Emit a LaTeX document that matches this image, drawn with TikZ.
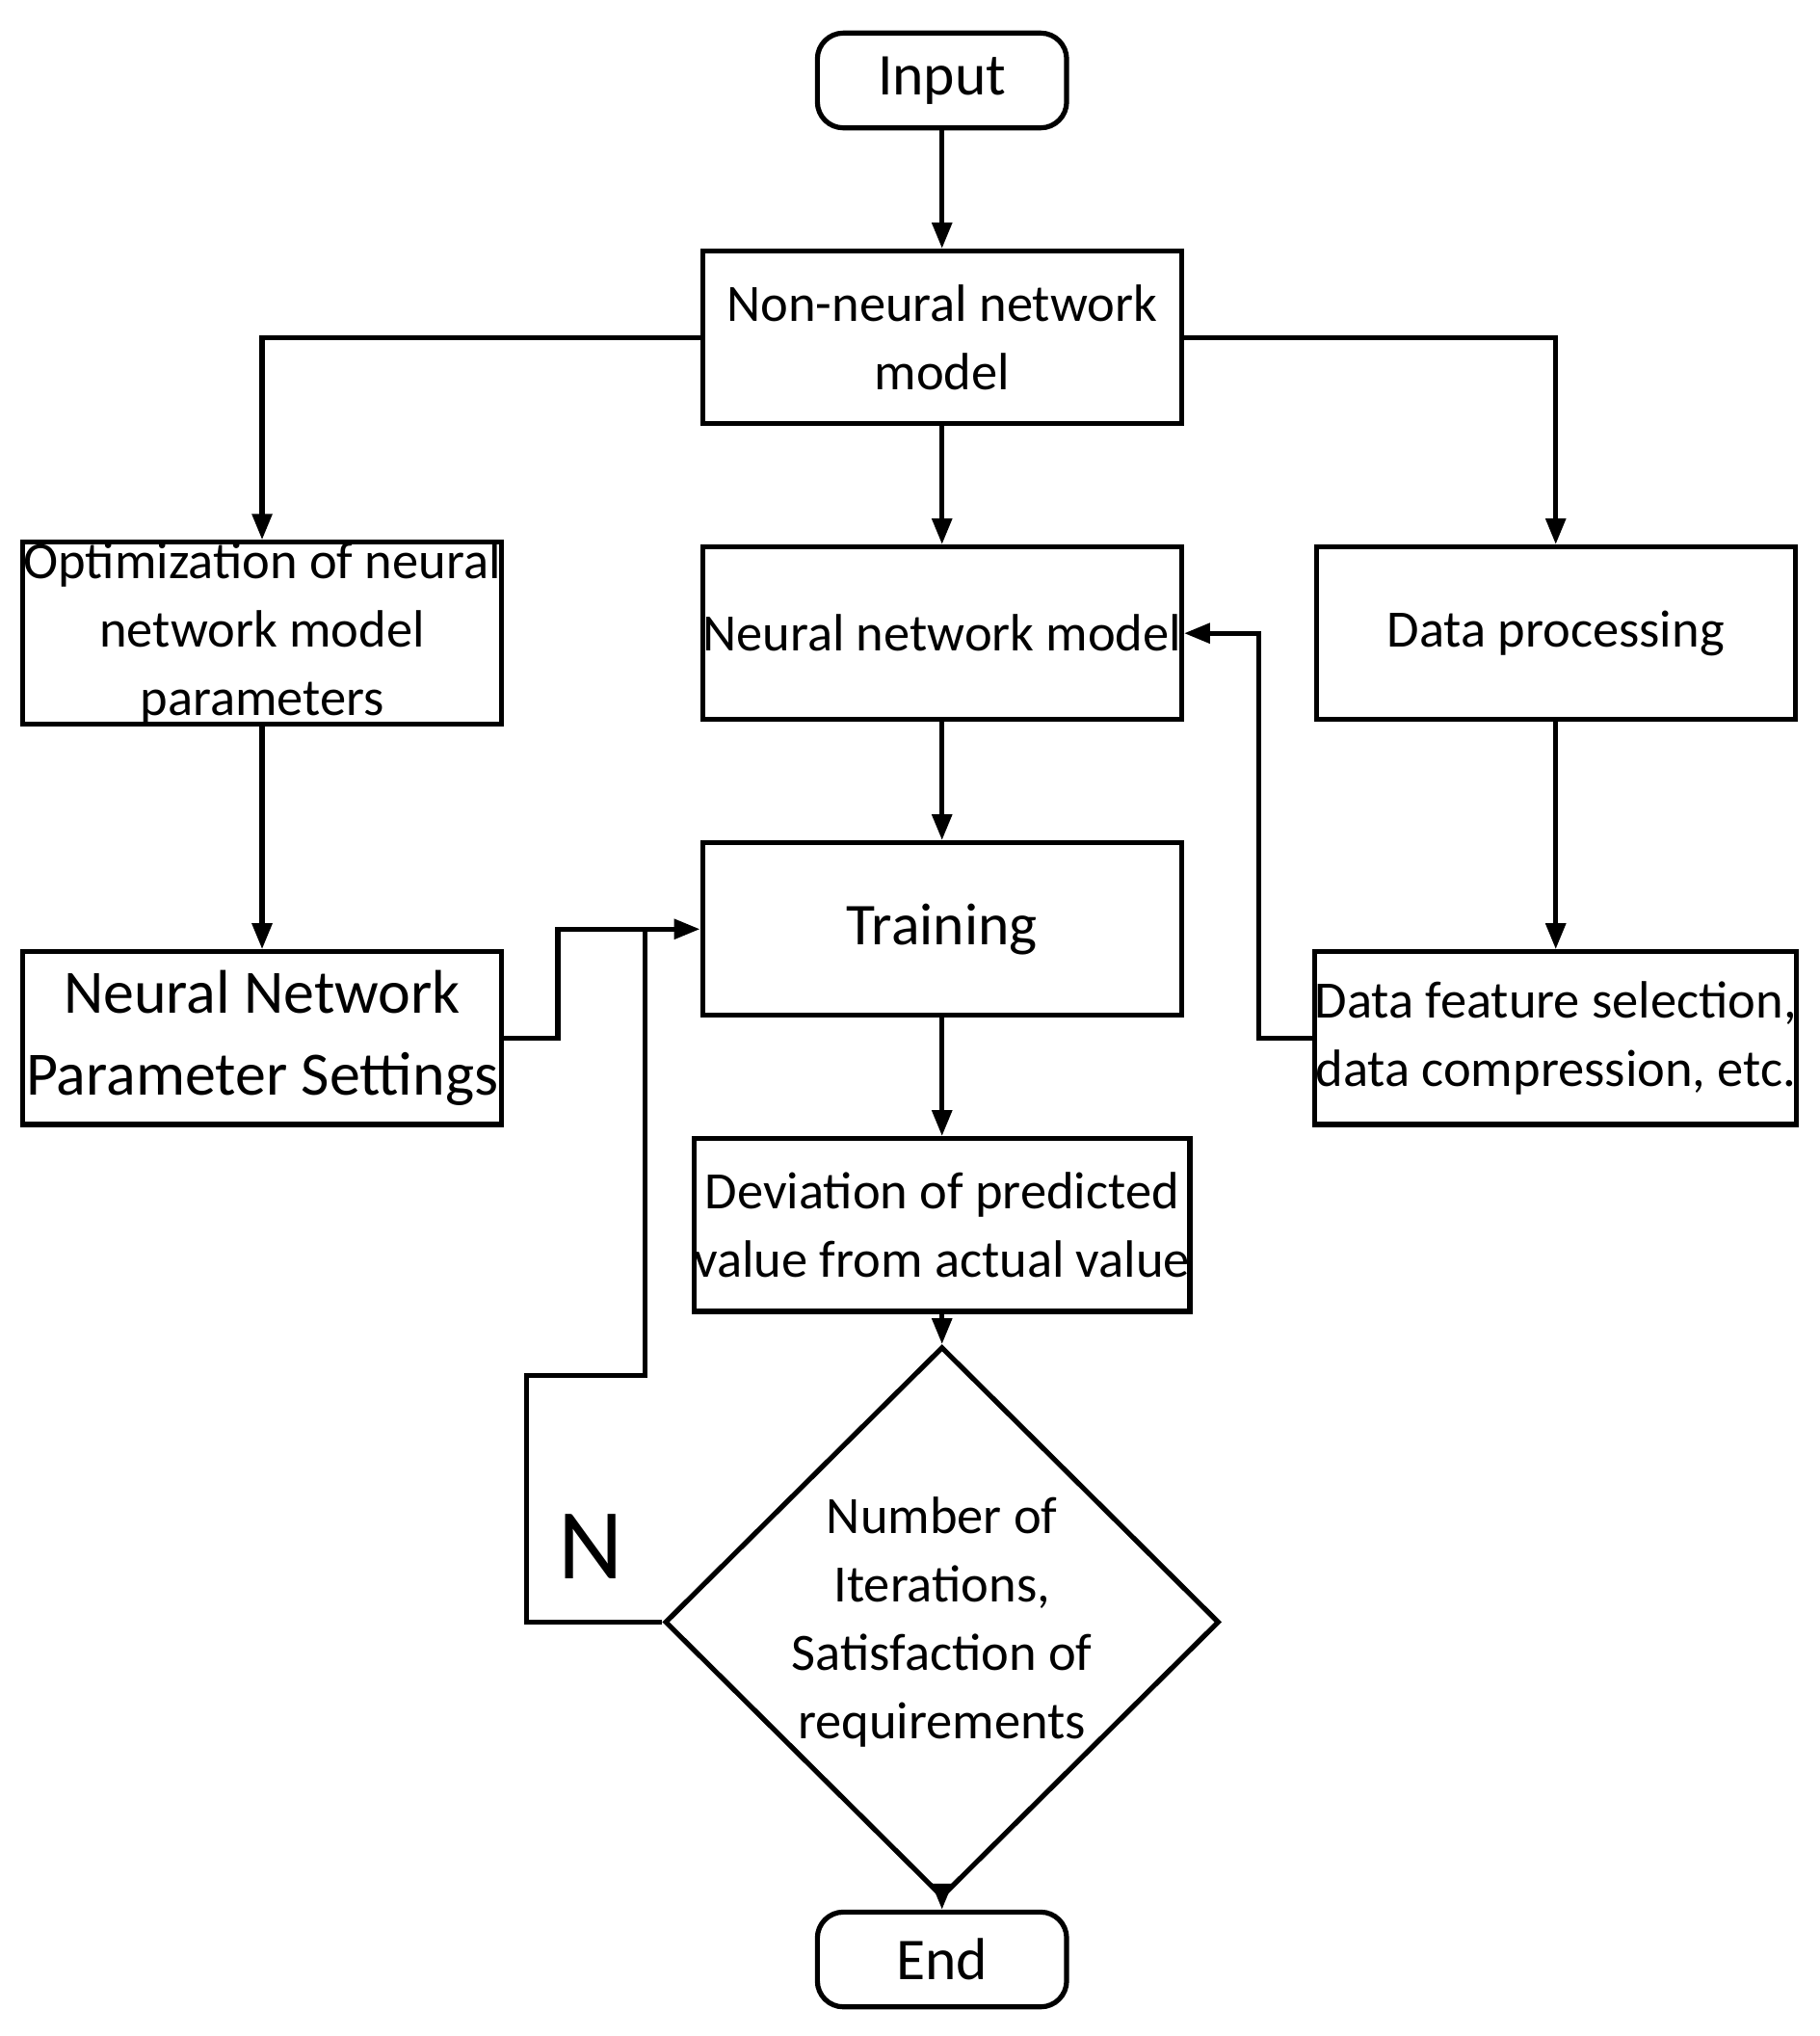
\documentclass[tikz,border=0pt]{standalone}
\usepackage{fontspec}
\setmainfont{Carlito}
\usetikzlibrary{arrows.meta,shapes.geometric}
\begin{document}
\begin{tikzpicture}[x=0.01cm,y=-0.01cm,line width=1.1pt,
  box/.style={draw,minimum width=3.69cm,minimum height=1.33cm,align=center,font=\fontsize{11.5}{15}\selectfont,inner sep=0pt},
  term/.style={draw,rounded corners=0.2cm,minimum width=1.92cm,minimum height=0.73cm,font=\fontsize{13}{15}\selectfont,inner sep=0pt},
  arr/.style={-{Triangle[length=0.2cm,width=0.15cm]}}]
\useasboundingbox (0,0) rectangle (1402,1569);
\node[term] (in) at (726,62) {Input};
\node[box] (nn0) at (726,260) {Non-neural network\\model};
\node[box] (opt) at (202,488) {Optimization of neural\\network model\\parameters};
\node[box] (nnm) at (726,488) {Neural network model};
\node[box] (dp) at (1199,488) {Data processing};
\node[box,font=\fontsize{13.5}{18}\selectfont] (ps) at (202,800) {Neural Network\\Parameter Settings};
\node[box,font=\fontsize{13}{15}\selectfont] (tr) at (726,716) {Training};
\node[box] (df) at (1199,800) {Data feature selection,\\data compression, etc.};
\node[box] (dev) at (726,944) {Deviation of predicted\\value from actual value};
\node[draw,diamond,minimum width=4.27cm,minimum height=2.87cm,inner sep=0pt,align=center,font=\fontsize{11.5}{15}\selectfont] (dia) at (726,1250) {Number of\\Iterations,\\Satisfaction of\\requirements};
\node[term] (end) at (726,1510) {End};
\node[font=\fontsize{22}{24}\selectfont] (n) at (455,1192) {N};
\coordinate (j) at (497,716);
\draw[arr] (in) -- (nn0);
\draw[arr] (nn0) -- (nnm);
\draw[arr] (nn0.west) -| (opt.north);
\draw[arr] (nn0.east) -| (dp.north);
\draw[arr] (opt) -- (ps);
\draw[arr] (dp) -- (df);
\draw[arr] (nnm) -- (tr);
\draw[arr] (tr) -- (dev);
\draw[arr] (dev) -- (dia);
\draw[arr] (dia) -- (end);
\draw[arr] (ps.east) -- (430,800) -- (430,716) -- (tr.west);
\draw (dia.west) -- (406,1250) -- (406,1060) -- (497,1060) -- (j);
\draw[arr] (df.west) -- (970,800) -- (970,488) -- (nnm.east);
\end{tikzpicture}
\end{document}
